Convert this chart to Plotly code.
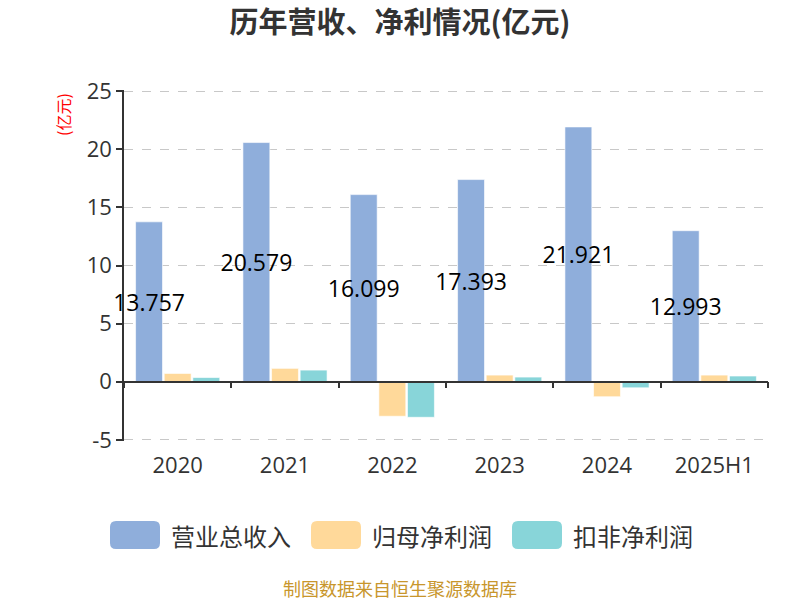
import plotly.graph_objects as go

categories = ["2020", "2021", "2022", "2023", "2024", "2025H1"]
revenue = [13.757, 20.579, 16.099, 17.393, 21.921, 12.993]
net_profit = [0.71, 1.15, -2.97, 0.57, -1.29, 0.57]
deducted_profit = [0.36, 1.0, -3.06, 0.40, -0.52, 0.49]
series_names = ["营业总收入", "归母净利润", "扣非净利润"]
colors = ["#8FAEDB", "#FFD99A", "#88D5D9"]
y_ticks = [-5, 0, 5, 10, 15, 20, 25]
y_tick_text = ["-5", "0", "5", "10", "15", "20", "25"]

FONT = "Open Sans, Noto Sans CJK SC, sans-serif"
CJK = "Noto Sans CJK SC, sans-serif"

fig = go.Figure()
for i, (name, vals, col) in enumerate(zip(series_names, [revenue, net_profit, deducted_profit], colors)):
    kw = {}
    if i == 0:
        kw = dict(text=[f"{v:.3f}" for v in vals], textposition="inside",
                  insidetextanchor="middle", constraintext="none", textangle=0,
                  insidetextfont=dict(size=23, color="#000000", family=FONT))
    fig.add_trace(go.Bar(x=categories, y=vals, name=name, marker_color=col,
                         marker_line_color="rgba(255,255,255,0.6)", marker_line_width=1,
                         showlegend=False, cliponaxis=False, **kw))

fig.update_layout(
    width=800, height=600,
    margin=dict(l=124, r=32, t=90, b=159),
    paper_bgcolor="white", plot_bgcolor="white",
    barmode="group", bargap=0.2, bargroupgap=0.06,
    font=dict(family=FONT, color="#333333"),
    title=dict(text="<b>历年营收、净利情况(亿元)</b>", x=0.5, xanchor="center",
               y=0.962, yanchor="middle", font=dict(size=29, color="#333333", family=CJK)),
    xaxis=dict(type="category", anchor="free", position=(0.1) / 30.2 + 5 / 30.2,
               showline=True, linecolor="#333333", linewidth=1.5,
               ticks="outside", tickson="boundaries", ticklen=6, tickwidth=1.5, tickcolor="#333333",
               ticklabelstandoff=64, tickfont=dict(size=22, color="#333333", family=FONT),
               showgrid=False, zeroline=False),
    yaxis=dict(range=[-5.1, 25.1], tickvals=y_ticks, ticktext=y_tick_text,
               showline=True, linecolor="#333333", linewidth=1.5,
               ticks="outside", ticklen=6, tickwidth=1.5, tickcolor="#333333",
               tickfont=dict(size=22, color="#333333", family=FONT),
               showgrid=True, gridcolor="#C8C8C8", griddash="dash", gridwidth=1,
               zeroline=False),
)

plot_w, plot_h = 644, 351
def px_x(px):
    return (px - 124) / plot_w
def px_y(py):
    return (441 - py) / plot_h

# y-axis unit label
fig.add_annotation(text="(亿元)", xref="paper", yref="paper", x=px_x(63), y=px_y(115),
                   xanchor="center", yanchor="middle",
                   textangle=-90, showarrow=False, font=dict(size=16, color="#FF0000", family=CJK))

# custom legend with large rounded swatches
def rrect(x0, y0, x1, y1, rx, ry):
    return (f"M {x0+rx},{y0} L {x1-rx},{y0} Q {x1},{y0} {x1},{y0+ry} L {x1},{y1-ry} "
            f"Q {x1},{y1} {x1-rx},{y1} L {x0+rx},{y1} Q {x0},{y1} {x0},{y1-ry} "
            f"L {x0},{y0+ry} Q {x0},{y0} {x0+rx},{y0} Z")

legend_x = [110, 311, 512]
for px, name, col in zip(legend_x, series_names, colors):
    x0, x1 = px_x(px), px_x(px + 50)
    y_top, y_bot = px_y(521), px_y(549)
    fig.add_shape(type="path", xref="paper", yref="paper",
                  path=rrect(x0, y_bot, x1, y_top, 6 / plot_w, 6 / plot_h),
                  fillcolor=col, line=dict(width=0), layer="above")
    fig.add_annotation(text=name, xref="paper", yref="paper", x=px_x(px + 59),
                       y=(y_top + y_bot) / 2, xanchor="left", yanchor="middle", showarrow=False,
                       font=dict(size=24, color="#333333", family=CJK))

fig.add_annotation(text="制图数据来自恒生聚源数据库", xref="paper", yref="paper",
                   x=px_x(400), y=px_y(588), xanchor="center", yanchor="middle",
                   showarrow=False, font=dict(size=18, color="#C8962C", family=CJK))

fig.write_html("out.html", config={"displayModeBar": False},
               post_script="document.body.style.margin='0px';")
